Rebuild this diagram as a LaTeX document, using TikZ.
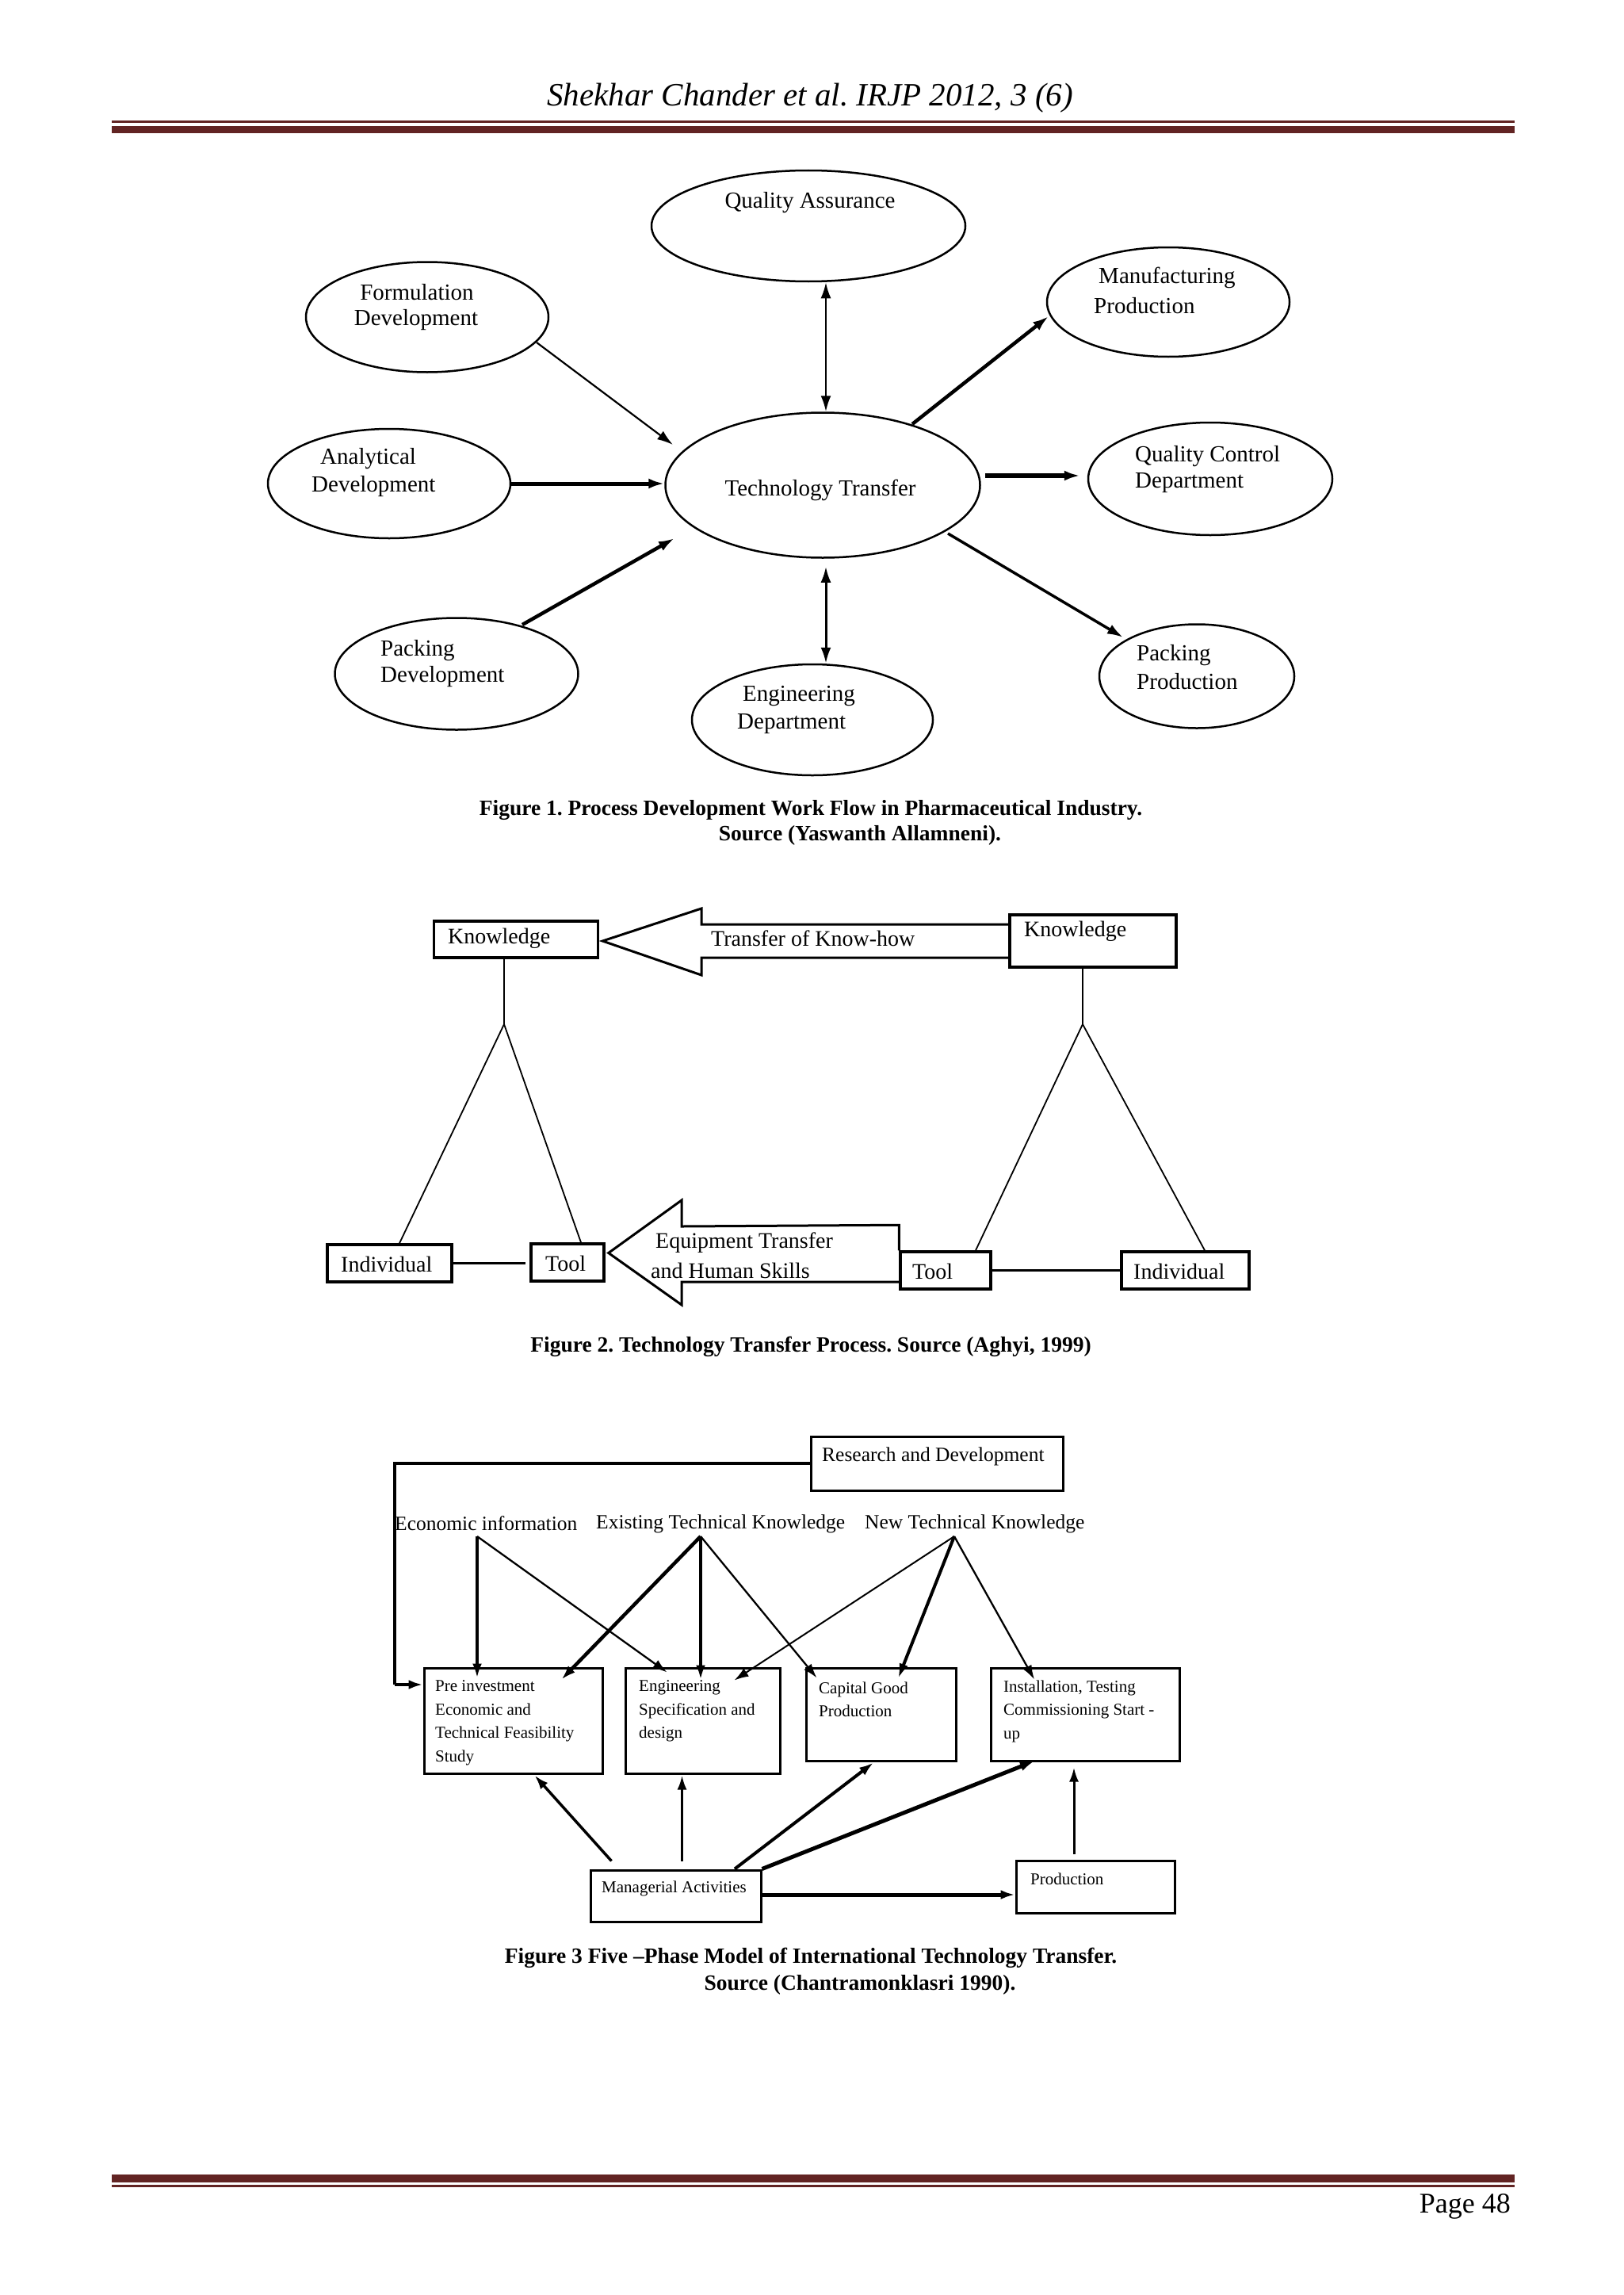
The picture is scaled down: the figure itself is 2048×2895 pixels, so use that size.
\documentclass[tikz,border=0pt]{standalone}
\usepackage{fontspec}
\setmainfont{Liberation Serif}
\usetikzlibrary{arrows.meta,shapes.geometric,calc}
\definecolor{rulecol}{HTML}{622423}
\frenchspacing
\begin{document}
\begin{tikzpicture}[x=1pt,y=-1pt,
  ell/.style={draw, ellipse, line width=2.5pt, inner sep=0pt},
  lab/.style={font=\fontsize{29}{34}\selectfont, inner sep=0pt, anchor=west},
  labb/.style={font=\fontsize{28}{33}\selectfont, inner sep=0pt, anchor=west},
  labc/.style={font=\fontsize{21}{29.5}\selectfont, inner sep=0pt, anchor=west, align=left},
  labd/.style={font=\fontsize{25.5}{30}\selectfont, inner sep=0pt, anchor=west},
  capt/.style={font=\fontsize{27.5}{33}\selectfont\bfseries, inner sep=0pt},
  boxb/.style={draw, line width=3.5pt, inner sep=0pt},
  boxc/.style={draw, line width=3pt, inner sep=0pt},
  tip/.style={-{Latex[length=20pt,width=13pt]}},
  tipb/.style={{Latex[length=20pt,width=13pt]}-{Latex[length=20pt,width=13pt]}},
  tipc/.style={-{Latex[length=18pt,width=12pt]}}
]
\path[use as bounding box, fill=white] (0,0) rectangle (2048,2895);

% header / footer
\node[font=\fontsize{41}{48}\selectfont\itshape, inner sep=0pt] (hdr) at (1022,124) {Shekhar Chander et al. IRJP 2012, 3 (6)};
\fill[rulecol] (141,152.5) rectangle (1911,155);
\fill[rulecol] (141,159) rectangle (1911,168);
\fill[rulecol] (141,2743) rectangle (1911,2753);
\fill[rulecol] (141,2756) rectangle (1911,2758.5);
\node[font=\fontsize{36}{42}\selectfont, inner sep=0pt, anchor=east] (pg) at (1906,2783) {Page 48};

% ---------- Figure 1 ----------
\node[ell, minimum width=396pt, minimum height=140pt] (QA) at (1020,285) {};
\node[ell, minimum width=306pt, minimum height=139pt] (FD) at (539,400) {};
\node[ell, minimum width=306pt, minimum height=138pt] (MP) at (1474,381) {};
\node[ell, minimum width=306pt, minimum height=138pt] (AD) at (491,610) {};
\node[ell, minimum width=397pt, minimum height=183pt] (TT) at (1038,612) {};
\node[ell, minimum width=308pt, minimum height=142pt] (QC) at (1527,604) {};
\node[ell, minimum width=307pt, minimum height=141pt] (PD) at (576,850) {};
\node[ell, minimum width=304pt, minimum height=140pt] (ED) at (1025,908) {};
\node[ell, minimum width=246pt, minimum height=131pt] (PP) at (1510,853) {};

\node[lab, anchor=center] (tQA) at (1022,256) {Quality Assurance};
\node[lab, anchor=center] (tFD1) at (526,369) {Formulation};
\node[lab, anchor=center] (tFD2) at (525,404) {Development};
\node[lab] (tMP1) at (1386,350) {Manufacturing};
\node[lab] (tMP2) at (1380,386) {Production};
\node[lab] (tAD1) at (404,579) {Analytical};
\node[lab] (tAD2) at (393,614) {Development};
\node[lab, anchor=center] (tTT) at (1035,618) {Technology Transfer};
\node[lab] (tQC1) at (1432,576) {Quality Control};
\node[lab] (tQC2) at (1432,609) {Department};
\node[lab] (tPD1) at (480,821) {Packing};
\node[lab] (tPD2) at (480,854) {Development};
\node[lab] (tED1) at (937,878) {Engineering};
\node[lab] (tED2) at (930,913) {Department};
\node[lab] (tPP1) at (1434,827) {Packing};
\node[lab] (tPP2) at (1434,860) {Production};

\coordinate (vx) at (1042,0);
\draw[tipb, line width=2.5pt] (QA.south -| vx) -- (TT.north -| vx);
\draw[tip, line width=2.2pt] ($(FD)+(138,32)$) -- ($(TT)+(-189,-51)$);
\draw[tip, line width=5pt] (AD.east) -- (AD.east -| TT.west);
\draw[tip, line width=4.5pt] ($(PD)+(83,-62)$) -- ($(TT)+(-187,67)$);
\draw[tip, line width=4.5pt] ($(TT)+(113,-77)$) -- ($(MP)+(-151,18)$);
\draw[tip, line width=5.5pt] ($(TT.east)+(5,-12)$) -- ($(QC.west)+(-9,-4)$);
\draw[tip, line width=3.5pt] ($(TT)+(158,61)$) -- ($(PP)+(-93,-49)$);
\draw[tipb, line width=3pt, shorten <=10pt] (TT.south -| vx) -- (ED.north -| vx);

\node[capt] (c1a) at (1023,1022) {Figure 1. Process Development Work Flow in Pharmaceutical Industry.};
\node[capt] (c1b) at (1085,1054) {Source (Yaswanth Allamneni).};

% ---------- Figure 2 ----------
\node[boxb, minimum width=207pt, minimum height=46pt] (K1) at (651,1185) {};
\node[boxb, minimum width=210pt, minimum height=66pt] (K2) at (1379,1187) {};
\node[boxb, minimum width=157pt, minimum height=47pt] (I1) at (491.5,1593.5) {};
\node[boxb, minimum width=92pt, minimum height=47pt] (T1) at (716,1592.5) {};
\node[boxb, minimum width=114pt, minimum height=47pt] (T2) at (1193,1602.5) {};
\node[boxb, minimum width=161pt, minimum height=47pt] (I2) at (1495.5,1602.5) {};

\node[labb] (tK1) at (565,1184) {Knowledge};
\node[labb] (tK2) at (1292,1175) {Knowledge};
\node[labb] (tTK) at (897,1184) {Transfer of Know-how};
\node[labb] (tI1) at (430,1595) {Individual};
\node[labb] (tT1) at (688,1594) {Tool};
\node[labb] (tT2) at (1151,1604) {Tool};
\node[labb] (tI2) at (1430,1604) {Individual};
\node[labb] (tEQ1) at (827,1568) {Equipment Transfer};
\node[labb] (tEQ2) at (821,1603) {and Human Skills};

% block arrows
\draw[line width=3pt, line join=miter] ($(K2.west)+(0,-21)$) -- (885,1166) -- (885,1146) -- ($(K1.east)+(4,2)$) -- (885,1230) -- (885,1208) -- ($(K2.west)+(0,21)$);
\draw[line width=3pt, line join=miter] (T2.north west) -- ($(T2.north west)+(0,-32)$) -- (860,1547) -- (860,1514) -- ($(T1.east)+(4,-12)$) -- (860,1646) -- (860,1617) -- ($(T2.west)+(0,14.5)$);

% triangles
\coordinate (apL) at (636,1292);
\coordinate (apR) at (1366,1292);
\draw[line width=1.8pt] (K1.south -| apL) -- (apL) -- ($(I1.north)+(12.5,0)$);
\draw[line width=1.8pt] (apL) -- ($(T1.north)+(17,0)$);
\draw[line width=1.8pt] (K2.south -| apR) -- (apR) -- ($(T2.north)+(38,0)$);
\draw[line width=1.8pt] (apR) -- ($(I2.north)+(24.5,0)$);
\draw[line width=3pt, shorten >=5pt] (I1.east) -- (I1.east -| T1.west);
\draw[line width=3pt] (T2.east) -- (T2.east -| I2.west);

\node[capt] (c2) at (1023,1699) {Figure 2. Technology Transfer Process. Source (Aghyi, 1999)};

% ---------- Figure 3 ----------
\node[boxc, minimum width=318pt, minimum height=68pt] (RD) at (1182,1846) {};
\node[boxc, minimum width=225pt, minimum height=133pt] (PI) at (647.5,2170.5) {};
\node[boxc, minimum width=195pt, minimum height=133pt] (EN) at (886.5,2170.5) {};
\node[boxc, minimum width=189pt, minimum height=117pt] (CG) at (1111.5,2162.5) {};
\node[boxc, minimum width=238pt, minimum height=117pt] (IN) at (1369,2162.5) {};
\node[boxc, minimum width=215pt, minimum height=65pt] (MA) at (852.5,2391.5) {};
\node[boxc, minimum width=200pt, minimum height=66pt] (PR) at (1382,2380) {};

\node[labd] (tRD) at (1037,1837) {Research and Development};
\node[labd] (EI) at (498,1922) {Economic information};
\node[labd] (ETK) at (752,1922) {Existing Technical Knowledge};
\node[labd] (NTK) at (1091,1922) {New Technical Knowledge};

\node[labc] (tPI) at (549,2173.5) {Pre investment\\Economic and\\Technical Feasibility\\Study};
\node[labc] (tEN) at (806,2158.5) {Engineering\\Specification and\\design};
\node[labc] (tCG) at (1033,2144) {Capital Good\\Production};
\node[labc] (tIN) at (1266,2158.5) {Installation, Testing\\Commissioning Start -\\up};
\node[labc] (tMA) at (759,2382) {Managerial Activities};
\node[labc] (tPR) at (1300,2370) {Production};

\coordinate (rdc) at (498,2125);
\draw[line width=3.5pt] (RD.west) -| (rdc);
\draw[tipc, line width=4.5pt] (rdc) -- (rdc -| PI.west);

\coordinate (eia) at (602,1938);
\coordinate (etka) at (884,1938);
\coordinate (ntka) at (1204,1938);
\draw[tipc, line width=4.5pt] (eia) -- ($(PI.north)+(-45.5,14)$);
\draw[tipc, line width=2.3pt] (eia) -- ($(EN.north)+(-45,7)$);
\draw[tipc, line width=4.5pt] (etka) -- ($(PI.north)+(61,16)$);
\draw[tipc, line width=4.5pt] (etka) -- ($(EN.north)+(-2.5,16)$);
\draw[tipc, line width=2.3pt] (etka) -- ($(CG.north)+(-81,14)$);
\draw[tipc, line width=2pt] (ntka) -- ($(EN.north)+(40,17)$);
\draw[tipc, line width=4pt] (ntka) -- ($(CG.north)+(22,14)$);
\draw[tipc, line width=2.3pt] (ntka) -- ($(IN.north)+(-64,16)$);

\draw[tipc, line width=3.5pt] ($(MA.north)+(-81,-10)$) -- ($(PI.south)+(27,1)$);
\draw[tipc, line width=3pt] ($(MA.north)+(8,-10)$) -- ($(EN.south)+(-26,1)$);
\draw[tipc, line width=4pt] ($(MA.north)+(74.5,0)$) -- ($(CG.south)+(-9.5,1)$);
\draw[tipc, line width=5pt] (MA.north east) -- ($(IN.south)+(-64,-1)$);
\coordinate (mae) at ($(MA.east)+(0,-1.5)$);
\draw[tipc, line width=5pt] (mae) -- (mae -| PR.west);
\draw[tipc, line width=3pt] ($(PR.north)+(-27,-7)$) -- ($(IN.south)+(-14,7)$);

\node[capt] (c3a) at (1023,2470) {Figure 3 Five –Phase Model of International Technology Transfer.};
\node[capt] (c3b) at (1085,2504) {Source (Chantramonklasri 1990).};
\end{tikzpicture}
\end{document}
